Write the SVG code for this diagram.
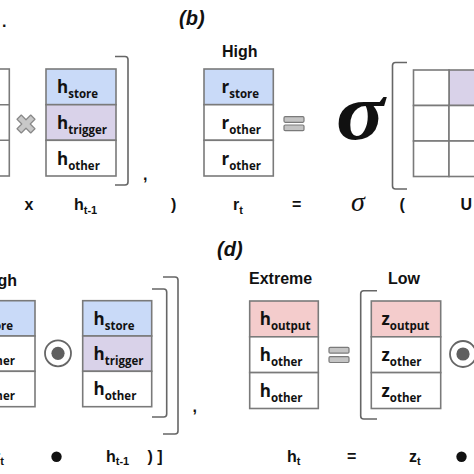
<svg xmlns="http://www.w3.org/2000/svg" width="474" height="474" viewBox="0 0 474 474">
<defs>
<style>
.cell{stroke:#7a7a7a;stroke-width:1.6;fill:#fff}
.blue{fill:#c9daf8}
.purple{fill:#d9d2e9}
.pink{fill:#f4cccc}
.m{font-family:"Open Sans","Liberation Sans",sans-serif;font-weight:700;font-size:17px;fill:#111}
.s{font-size:11.5px}
.lab{font-family:"Liberation Sans",Arial,sans-serif;font-weight:700;font-size:16px;fill:#111}
.sub{font-size:11px}
.hdr{font-family:"Liberation Sans",Arial,sans-serif;font-weight:700;font-size:16px;fill:#111}
.ttl{font-family:"Liberation Sans",Arial,sans-serif;font-weight:700;font-style:italic;font-size:20px;fill:#111}
.br{fill:none;stroke:#666;stroke-width:1.6;stroke-linejoin:round}
.eqb{fill:#c4c4c4;stroke:#7a7a7a;stroke-width:1.2}
.sig{font-family:"Liberation Serif","Times New Roman",serif;font-style:italic;fill:#111}
</style>
</defs>

<!-- Panel b -->
<text class="lab" x="2" y="27" font-size="10">.</text>
<text class="ttl" x="179" y="25">(b)</text>

<g id="matrix-a-left">
<rect class="cell" x="-60" y="69" width="69.3" height="107"/>
<line class="cell" x1="-60" y1="104.7" x2="9.3" y2="104.7"/>
<line class="cell" x1="-60" y1="140.3" x2="9.3" y2="140.3"/>
</g>

<g id="times-cross">
<path d="M-3,-9.7 H3 V-3 H9.7 V3 H3 V9.7 H-3 V3 H-9.7 V-3 H-3 Z" transform="translate(26,124) rotate(45)" fill="#c8c8c8" stroke="#888" stroke-width="1.2" stroke-linejoin="round"/>
</g>

<g id="matrix-h-b">
<rect class="cell blue" x="46" y="69" width="70" height="35.7"/>
<rect class="cell purple" x="46" y="104.7" width="70" height="35.6"/>
<rect class="cell" x="46" y="140.3" width="70" height="35.7"/>
<text class="m" x="57" y="93.3">h<tspan class="s" dy="5">store</tspan></text>
<text class="m" x="57" y="129">h<tspan class="s" dy="5">trigger</tspan></text>
<text class="m" x="57" y="164.6">h<tspan class="s" dy="5">other</tspan></text>
</g>

<g id="bracket-b1">
<path class="br" d="M115,56.5 H125 Q128,56.5 128,59.5 V182 Q128,185 125,185 H115"/>
</g>
<text class="lab" x="143" y="180">,</text>

<g id="matrix-r-b">
<text class="hdr" x="222" y="57">High</text>
<rect class="cell blue" x="204" y="69" width="69.3" height="35.7"/>
<rect class="cell" x="204" y="104.7" width="69.3" height="35.6"/>
<rect class="cell" x="204" y="140.3" width="69.3" height="35.7"/>
<text class="m" x="221.5" y="93.3">r<tspan class="s" dy="5">store</tspan></text>
<text class="m" x="221.5" y="129">r<tspan class="s" dy="5">other</tspan></text>
<text class="m" x="221.5" y="164.6">r<tspan class="s" dy="5">other</tspan></text>
</g>

<g id="equals-b">
<rect class="eqb" x="284" y="116.7" width="20" height="5.6" rx="1.2"/>
<rect class="eqb" x="284" y="125" width="20" height="5.6" rx="1.2"/>
</g>

<g id="sigma-b">
<text class="sig" x="0" y="0" font-size="80" font-weight="700" transform="translate(336,139) scale(1.13,1)">σ</text>
</g>

<g id="bracket-b2">
<path class="br" d="M407,62.5 H395.5 Q392.5,62.5 392.5,65.5 V186 Q392.5,189 395.5,189 H407"/>
</g>

<g id="matrix-U">
<rect class="cell purple" x="449" y="70" width="35.5" height="35.5"/>
<rect class="cell" x="413.5" y="70" width="35.5" height="35.5"/>
<rect class="cell" x="413.5" y="105.5" width="35.5" height="35.5"/>
<rect class="cell" x="413.5" y="141" width="35.5" height="35.5"/>
<rect class="cell" x="449" y="105.5" width="35.5" height="35.5"/>
<rect class="cell" x="449" y="141" width="35.5" height="35.5"/>
</g>

<g id="formula-b">
<text class="lab" x="24.5" y="210">x</text>
<text class="lab" x="74" y="210">h<tspan class="sub" dy="3.5">t-1</tspan></text>
<text class="lab" x="171" y="210">)</text>
<text class="lab" x="233" y="210">r<tspan class="sub" dy="3.5">t</tspan></text>
<text class="lab" x="292" y="210">=</text>
<text class="sig" x="351" y="211" font-size="28">σ</text>
<text class="lab" x="399.5" y="210" font-weight="400">(</text>
<text class="lab" x="460.5" y="210">U</text>
</g>

<!-- Panel c / d -->
<text class="ttl" x="217" y="256">(d)</text>

<g id="matrix-r-c">
<text class="hdr" x="-18.5" y="286">High</text>
<rect class="cell blue" x="-34" y="300.7" width="69" height="35.3"/>
<rect class="cell" x="-34" y="336" width="69" height="35.3"/>
<rect class="cell" x="-34" y="371.3" width="69" height="35.4"/>
<text class="m" x="-24.5" y="324.8">r<tspan class="s" dy="5">store</tspan></text>
<text class="m" x="-24.5" y="360.1">r<tspan class="s" dy="5">other</tspan></text>
<text class="m" x="-24.5" y="395.4">r<tspan class="s" dy="5">other</tspan></text>
</g>

<g id="odot-c">
<circle cx="58" cy="353.3" r="13" fill="#fff" stroke="#666" stroke-width="1.8"/>
<circle cx="58" cy="353.3" r="6.6" fill="#5f5f5f"/>
</g>

<g id="matrix-h-c">
<rect class="cell blue" x="82.7" y="300.7" width="69" height="35.3"/>
<rect class="cell purple" x="82.7" y="336" width="69" height="35.3"/>
<rect class="cell" x="82.7" y="371.3" width="69" height="35.4"/>
<text class="m" x="93.5" y="324.8">h<tspan class="s" dy="5">store</tspan></text>
<text class="m" x="93.5" y="360.1">h<tspan class="s" dy="5">trigger</tspan></text>
<text class="m" x="93.5" y="395.4">h<tspan class="s" dy="5">other</tspan></text>
</g>

<g id="bracket-c-inner">
<path class="br" d="M152,289 H163.7 Q166.7,289 166.7,292 V414 Q166.7,417 163.7,417 H152"/>
</g>
<g id="bracket-c-outer">
<path class="br" d="M163,277 H175 Q178,277 178,280 V431 Q178,434 175,434 H163"/>
</g>
<text class="lab" x="192.5" y="412">,</text>

<g id="formula-c">
<text class="lab" x="-6" y="461.7">r<tspan class="sub" dy="3.5">t</tspan></text>
<circle cx="56.5" cy="456.7" r="5.2" fill="#111"/>
<text class="lab" x="106" y="461.7">h<tspan class="sub" dy="3.5">t-1</tspan></text>
<text class="lab" x="147.5" y="461.7">) ]</text>
</g>

<g id="matrix-h-d">
<text class="hdr" x="249" y="284">Extreme</text>
<rect class="cell pink" x="249.7" y="301" width="68.6" height="35.8"/>
<rect class="cell" x="249.7" y="336.8" width="68.6" height="35.8"/>
<rect class="cell" x="249.7" y="372.6" width="68.6" height="35.9"/>
<text class="m" x="259.7" y="325">h<tspan class="s" dy="5">output</tspan></text>
<text class="m" x="259.7" y="360.8">h<tspan class="s" dy="5">other</tspan></text>
<text class="m" x="259.7" y="396.6">h<tspan class="s" dy="5">other</tspan></text>
</g>

<g id="equals-d">
<rect class="eqb" x="329" y="347.3" width="20" height="5.8" rx="1.2"/>
<rect class="eqb" x="329" y="356.7" width="20" height="5.8" rx="1.2"/>
</g>

<g id="bracket-d">
<path class="br" d="M377,290.7 H363.7 Q360.7,290.7 360.7,293.7 V416 Q360.7,419 363.7,419 H377"/>
</g>

<g id="matrix-z-d">
<text class="hdr" x="388" y="284">Low</text>
<rect class="cell pink" x="371.3" y="301" width="69.4" height="35.8"/>
<rect class="cell" x="371.3" y="336.8" width="69.4" height="35.8"/>
<rect class="cell" x="371.3" y="372.6" width="69.4" height="35.9"/>
<text class="m" x="381.5" y="325">z<tspan class="s" dy="5">output</tspan></text>
<text class="m" x="381.5" y="360.8">z<tspan class="s" dy="5">other</tspan></text>
<text class="m" x="381.5" y="396.6">z<tspan class="s" dy="5">other</tspan></text>
</g>

<g id="odot-d">
<circle cx="463" cy="354" r="13" fill="#fff" stroke="#666" stroke-width="1.8"/>
<circle cx="463" cy="354" r="6.6" fill="#5f5f5f"/>
</g>

<g id="formula-d">
<text class="lab" x="287" y="461.7">h<tspan class="sub" dy="3.5">t</tspan></text>
<text class="lab" x="347" y="461.7">=</text>
<text class="lab" x="409" y="461.7">z<tspan class="sub" dy="3.5">t</tspan></text>
<circle cx="461.5" cy="456.7" r="5.2" fill="#111"/>
</g>
</svg>
